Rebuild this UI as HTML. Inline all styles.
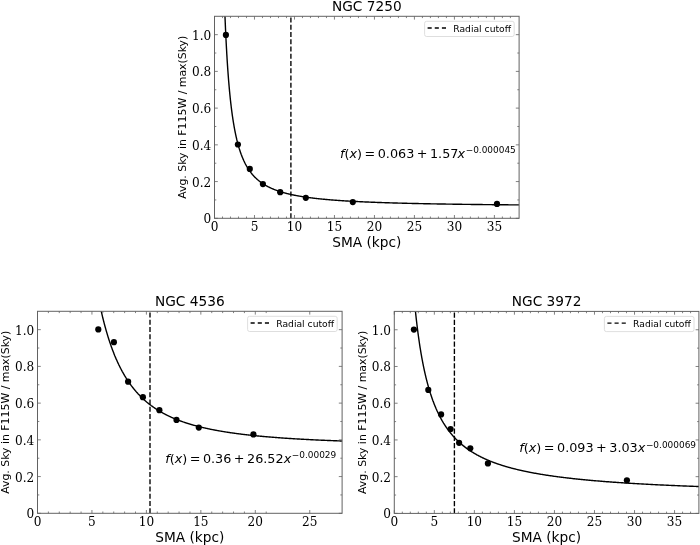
<!DOCTYPE html>
<html><head><meta charset="utf-8"><title>Sky profiles</title>
<style>
html,body{margin:0;padding:0;background:#fff;}
svg{display:block;}
</style></head>
<body>
<svg width="700" height="545" viewBox="0 0 700 545" font-family="'DejaVu Sans', 'Liberation Sans', sans-serif" fill="#000">
<filter id="soft" filterUnits="userSpaceOnUse" x="0" y="0" width="700" height="545"><feGaussianBlur stdDeviation="0.3"/></filter>
<rect width="700" height="545" fill="#fff"/>
<g filter="url(#soft)">
<clipPath id="clipA"><rect x="214.5" y="16.3" width="304.6" height="202"/></clipPath>
<g clip-path="url(#clipA)">
<polyline points="224.63,7.18 224.69,8.74 224.75,10.29 224.81,11.82 224.86,13.35 224.92,14.86 224.98,16.36 225.04,17.85 225.10,19.33 225.16,20.80 225.22,22.25 225.29,23.70 225.35,25.13 225.41,26.55 225.47,27.96 225.53,29.36 225.60,30.75 225.66,32.13 225.72,33.49 225.79,34.85 225.85,36.19 225.92,37.53 225.98,38.85 226.05,40.17 226.11,41.47 226.18,42.76 226.25,44.05 226.31,45.32 226.38,46.58 226.45,47.84 226.52,49.08 226.59,50.31 226.66,51.54 226.72,52.75 226.79,53.96 226.86,55.15 226.94,56.34 227.01,57.52 227.08,58.69 227.15,59.84 227.22,60.99 227.29,62.13 227.37,63.27 227.44,64.39 227.51,65.50 227.59,66.61 227.66,67.71 227.74,68.79 227.81,69.87 227.89,70.94 227.97,72.01 228.04,73.06 228.12,74.11 228.20,75.15 228.28,76.18 228.36,77.20 228.43,78.21 228.51,79.22 228.59,80.21 228.67,81.21 228.76,82.19 228.84,83.16 228.92,84.13 229.00,85.09 229.08,86.04 229.17,86.99 229.25,87.92 229.34,88.85 229.42,89.78 229.50,90.69 229.59,91.60 229.68,92.50 229.76,93.39 229.85,94.28 229.94,95.16 230.03,96.03 230.11,96.90 230.20,97.76 230.29,98.61 230.38,99.46 230.47,100.30 230.57,101.13 230.66,101.96 230.75,102.78 230.84,103.59 230.94,104.40 231.03,105.20 231.12,106.00 231.22,106.78 231.31,107.57 231.41,108.34 231.51,109.11 231.60,109.88 231.70,110.63 231.80,111.39 231.90,112.13 232.00,112.87 232.10,113.61 232.20,114.34 232.30,115.06 232.40,115.78 232.50,116.49 232.61,117.20 232.71,117.90 232.81,118.59 232.92,119.28 233.02,119.97 233.13,120.64 233.24,121.32 233.34,121.99 233.45,122.65 233.56,123.31 233.67,123.96 233.78,124.61 233.89,125.25 234.00,125.89 234.11,126.52 234.22,127.15 234.33,127.77 234.45,128.39 234.56,129.00 234.67,129.61 234.79,130.22 234.91,130.82 235.02,131.41 235.14,132.00 235.26,132.58 235.38,133.16 235.49,133.74 235.61,134.31 235.73,134.88 235.86,135.44 235.98,136.00 236.10,136.55 236.22,137.10 236.35,137.65 236.47,138.19 236.60,138.72 236.72,139.26 236.85,139.78 236.98,140.31 237.11,140.83 237.24,141.34 237.37,141.86 237.50,142.36 237.63,142.87 237.76,143.37 237.89,143.86 238.03,144.36 238.16,144.84 238.30,145.33 238.43,145.81 238.57,146.29 238.71,146.76 238.84,147.23 238.98,147.69 239.12,148.16 239.26,148.61 239.40,149.07 239.55,149.52 239.69,149.97 239.83,150.41 239.98,150.85 240.12,151.29 240.27,151.73 240.42,152.16 240.56,152.58 240.71,153.01 240.86,153.43 241.01,153.84 241.16,154.26 241.32,154.67 241.47,155.08 241.62,155.48 241.78,155.88 241.93,156.28 242.09,156.68 242.25,157.07 242.41,157.46 242.57,157.84 242.73,158.22 242.89,158.60 243.05,158.98 243.21,159.35 243.38,159.73 243.54,160.09 243.71,160.46 243.87,160.82 244.04,161.18 244.21,161.54 244.38,161.89 244.55,162.24 244.72,162.59 244.90,162.94 245.07,163.28 245.24,163.62 245.42,163.96 245.60,164.29 245.77,164.62 245.95,164.95 246.13,165.28 246.31,165.60 246.49,165.93 246.68,166.25 246.86,166.56 247.04,166.88 247.23,167.19 247.42,167.50 247.60,167.81 247.79,168.11 247.98,168.41 248.17,168.71 248.37,169.01 248.56,169.31 248.75,169.60 248.95,169.89 249.15,170.18 249.34,170.46 249.54,170.75 249.74,171.03 249.95,171.31 250.15,171.59 250.35,171.86 250.56,172.13 250.76,172.40 250.97,172.67 251.18,172.94 251.39,173.20 251.60,173.47 251.81,173.73 252.02,173.99 252.24,174.24 252.45,174.50 252.67,174.75 252.89,175.00 253.10,175.25 253.33,175.49 253.55,175.74 253.77,175.98 253.99,176.22 254.22,176.46 254.45,176.70 254.67,176.93 254.90,177.17 255.13,177.40 255.37,177.63 255.60,177.86 255.83,178.08 256.07,178.31 256.31,178.53 256.55,178.75 256.79,178.97 257.03,179.19 257.27,179.40 257.51,179.62 257.76,179.83 258.01,180.04 258.26,180.25 258.51,180.45 258.76,180.66 259.01,180.86 259.26,181.07 259.52,181.27 259.78,181.47 260.03,181.66 260.29,181.86 260.56,182.06 260.82,182.25 261.08,182.44 261.35,182.63 261.62,182.82 261.89,183.01 262.16,183.19 262.43,183.38 262.70,183.56 262.98,183.74 263.25,183.92 263.53,184.10 263.81,184.28 264.09,184.45 264.38,184.63 264.66,184.80 264.95,184.97 265.24,185.14 265.53,185.31 265.82,185.48 266.11,185.65 266.40,185.81 266.70,185.97 267.00,186.14 267.30,186.30 267.60,186.46 267.90,186.62 268.21,186.77 268.51,186.93 268.82,187.09 269.13,187.24 269.44,187.39 269.76,187.54 270.07,187.69 270.39,187.84 270.71,187.99 271.03,188.14 271.35,188.28 271.68,188.43 272.00,188.57 272.33,188.71 272.66,188.85 273.00,188.99 273.33,189.13 273.67,189.27 274.00,189.41 274.34,189.54 274.68,189.68 275.03,189.81 275.37,189.94 275.72,190.08 276.07,190.21 276.42,190.34 276.78,190.46 277.13,190.59 277.49,190.72 277.85,190.84 278.21,190.97 278.57,191.09 278.94,191.21 279.31,191.33 279.68,191.46 280.05,191.58 280.42,191.69 280.80,191.81 281.18,191.93 281.56,192.04 281.94,192.16 282.33,192.27 282.71,192.39 283.10,192.50 283.50,192.61 283.89,192.72 284.29,192.83 284.68,192.94 285.08,193.05 285.49,193.15 285.89,193.26 286.30,193.37 286.71,193.47 287.12,193.58 287.54,193.68 287.95,193.78 288.37,193.88 288.80,193.98 289.22,194.08 289.65,194.18 290.07,194.28 290.51,194.38 290.94,194.47 291.38,194.57 291.82,194.67 292.26,194.76 292.70,194.85 293.15,194.95 293.60,195.04 294.05,195.13 294.50,195.22 294.96,195.31 295.42,195.40 295.88,195.49 296.34,195.58 296.81,195.67 297.28,195.75 297.75,195.84 298.23,195.92 298.71,196.01 299.19,196.09 299.67,196.18 300.16,196.26 300.65,196.34 301.14,196.42 301.63,196.50 302.13,196.58 302.63,196.66 303.13,196.74 303.64,196.82 304.15,196.90 304.66,196.97 305.18,197.05 305.69,197.13 306.21,197.20 306.74,197.28 307.26,197.35 307.79,197.42 308.33,197.50 308.86,197.57 309.40,197.64 309.94,197.71 310.49,197.78 311.04,197.85 311.59,197.92 312.14,197.99 312.70,198.06 313.26,198.13 313.82,198.20 314.39,198.26 314.96,198.33 315.53,198.39 316.11,198.46 316.69,198.52 317.27,198.59 317.86,198.65 318.45,198.72 319.04,198.78 319.64,198.84 320.24,198.90 320.85,198.96 321.45,199.03 322.06,199.09 322.68,199.15 323.29,199.20 323.92,199.26 324.54,199.32 325.17,199.38 325.80,199.44 326.44,199.50 327.07,199.55 327.72,199.61 328.36,199.66 329.01,199.72 329.67,199.77 330.33,199.83 330.99,199.88 331.65,199.94 332.32,199.99 332.99,200.04 333.67,200.10 334.35,200.15 335.03,200.20 335.72,200.25 336.41,200.30 337.11,200.35 337.81,200.40 338.51,200.45 339.22,200.50 339.93,200.55 340.65,200.60 341.37,200.65 342.09,200.69 342.82,200.74 343.56,200.79 344.29,200.83 345.03,200.88 345.78,200.93 346.53,200.97 347.28,201.02 348.04,201.06 348.80,201.11 349.57,201.15 350.34,201.19 351.12,201.24 351.90,201.28 352.68,201.32 353.47,201.37 354.26,201.41 355.06,201.45 355.86,201.49 356.67,201.53 357.48,201.57 358.30,201.61 359.12,201.65 359.94,201.69 360.77,201.73 361.61,201.77 362.45,201.81 363.29,201.85 364.14,201.89 365.00,201.93 365.86,201.96 366.72,202.00 367.59,202.04 368.46,202.07 369.34,202.11 370.23,202.15 371.12,202.18 372.01,202.22 372.91,202.25 373.81,202.29 374.72,202.32 375.64,202.36 376.56,202.39 377.48,202.43 378.41,202.46 379.35,202.49 380.29,202.53 381.24,202.56 382.19,202.59 383.15,202.63 384.11,202.66 385.08,202.69 386.05,202.72 387.03,202.75 388.02,202.78 389.01,202.82 390.00,202.85 391.00,202.88 392.01,202.91 393.03,202.94 394.04,202.97 395.07,203.00 396.10,203.03 397.14,203.05 398.18,203.08 399.23,203.11 400.28,203.14 401.34,203.17 402.41,203.20 403.48,203.22 404.56,203.25 405.65,203.28 406.74,203.31 407.84,203.33 408.94,203.36 410.05,203.39 411.17,203.41 412.29,203.44 413.42,203.46 414.55,203.49 415.70,203.52 416.84,203.54 418.00,203.57 419.16,203.59 420.33,203.62 421.51,203.64 422.69,203.66 423.88,203.69 425.07,203.71 426.27,203.74 427.48,203.76 428.70,203.78 429.92,203.81 431.15,203.83 432.39,203.85 433.63,203.87 434.88,203.90 436.14,203.92 437.41,203.94 438.68,203.96 439.96,203.99 441.25,204.01 442.54,204.03 443.84,204.05 445.15,204.07 446.47,204.09 447.79,204.11 449.12,204.13 450.46,204.15 451.81,204.17 453.17,204.19 454.53,204.21 455.90,204.23 457.28,204.25 458.66,204.27 460.06,204.29 461.46,204.31 462.87,204.33 464.29,204.35 465.71,204.37 467.15,204.39 468.59,204.40 470.04,204.42 471.50,204.44 472.97,204.46 474.44,204.48 475.92,204.49 477.42,204.51 478.92,204.53 480.43,204.55 481.95,204.56 483.47,204.58 485.01,204.60 486.55,204.61 488.11,204.63 489.67,204.65 491.24,204.66 492.82,204.68 494.41,204.70 496.01,204.71 497.61,204.73 499.23,204.74 500.85,204.76 502.49,204.78 504.13,204.79 505.79,204.81 507.45,204.82 509.12,204.84 510.80,204.85 512.50,204.87 514.20,204.88 515.91,204.90 517.63,204.91 519.36,204.92 521.10,204.94" fill="none" stroke="#000" stroke-width="1.4" stroke-linejoin="round"/>
<line x1="290.9" y1="218.3" x2="290.9" y2="16.3" stroke="#000" stroke-width="1.37" stroke-dasharray="5.05 2.2"/>
<circle cx="225.9" cy="34.9" r="3.1" fill="#000"/>
<circle cx="237.9" cy="144.5" r="3.1" fill="#000"/>
<circle cx="249.8" cy="168.9" r="3.1" fill="#000"/>
<circle cx="262.9" cy="184.1" r="3.1" fill="#000"/>
<circle cx="280.2" cy="192.2" r="3.1" fill="#000"/>
<circle cx="305.8" cy="197.8" r="3.1" fill="#000"/>
<circle cx="352.8" cy="202.1" r="3.1" fill="#000"/>
<circle cx="497.0" cy="203.9" r="3.1" fill="#000"/>
</g>
<path d="M214.50 218.30v-3.3M214.50 16.30v3.3M254.48 218.30v-3.3M254.48 16.30v3.3M294.47 218.30v-3.3M294.47 16.30v3.3M334.45 218.30v-3.3M334.45 16.30v3.3M374.44 218.30v-3.3M374.44 16.30v3.3M414.42 218.30v-3.3M414.42 16.30v3.3M454.41 218.30v-3.3M454.41 16.30v3.3M494.39 218.30v-3.3M494.39 16.30v3.3M222.50 218.30v-1.8M222.50 16.30v1.8M230.49 218.30v-1.8M230.49 16.30v1.8M238.49 218.30v-1.8M238.49 16.30v1.8M246.49 218.30v-1.8M246.49 16.30v1.8M262.48 218.30v-1.8M262.48 16.30v1.8M270.48 218.30v-1.8M270.48 16.30v1.8M278.47 218.30v-1.8M278.47 16.30v1.8M286.47 218.30v-1.8M286.47 16.30v1.8M302.47 218.30v-1.8M302.47 16.30v1.8M310.46 218.30v-1.8M310.46 16.30v1.8M318.46 218.30v-1.8M318.46 16.30v1.8M326.46 218.30v-1.8M326.46 16.30v1.8M342.45 218.30v-1.8M342.45 16.30v1.8M350.45 218.30v-1.8M350.45 16.30v1.8M358.44 218.30v-1.8M358.44 16.30v1.8M366.44 218.30v-1.8M366.44 16.30v1.8M382.43 218.30v-1.8M382.43 16.30v1.8M390.43 218.30v-1.8M390.43 16.30v1.8M398.43 218.30v-1.8M398.43 16.30v1.8M406.42 218.30v-1.8M406.42 16.30v1.8M422.42 218.30v-1.8M422.42 16.30v1.8M430.41 218.30v-1.8M430.41 16.30v1.8M438.41 218.30v-1.8M438.41 16.30v1.8M446.41 218.30v-1.8M446.41 16.30v1.8M462.40 218.30v-1.8M462.40 16.30v1.8M470.40 218.30v-1.8M470.40 16.30v1.8M478.40 218.30v-1.8M478.40 16.30v1.8M486.39 218.30v-1.8M486.39 16.30v1.8M502.39 218.30v-1.8M502.39 16.30v1.8M510.38 218.30v-1.8M510.38 16.30v1.8M214.50 218.30h3.3M519.10 218.30h-3.3M214.50 199.94h1.8M519.10 199.94h-1.8M214.50 181.57h3.3M519.10 181.57h-3.3M214.50 163.21h1.8M519.10 163.21h-1.8M214.50 144.85h3.3M519.10 144.85h-3.3M214.50 126.48h1.8M519.10 126.48h-1.8M214.50 108.12h3.3M519.10 108.12h-3.3M214.50 89.75h1.8M519.10 89.75h-1.8M214.50 71.39h3.3M519.10 71.39h-3.3M214.50 53.03h1.8M519.10 53.03h-1.8M214.50 34.66h3.3M519.10 34.66h-3.3" stroke="#626262" stroke-width="0.8" fill="none"/>
<rect x="214.5" y="16.3" width="304.6" height="202" fill="none" stroke="#626262" stroke-width="1.0"/>
<g font-family="'DejaVu Serif', 'Liberation Serif', serif" font-size="12.1" fill="#000"><text x="214.50" y="230.90" text-anchor="middle">0</text><text x="254.48" y="230.90" text-anchor="middle">5</text><text x="294.47" y="230.90" text-anchor="middle">10</text><text x="334.45" y="230.90" text-anchor="middle">15</text><text x="374.44" y="230.90" text-anchor="middle">20</text><text x="414.42" y="230.90" text-anchor="middle">25</text><text x="454.41" y="230.90" text-anchor="middle">30</text><text x="494.39" y="230.90" text-anchor="middle">35</text><text x="211.20" y="223.25" text-anchor="end">0</text><text x="211.20" y="186.52" text-anchor="end">0.2</text><text x="211.20" y="149.80" text-anchor="end">0.4</text><text x="211.20" y="113.07" text-anchor="end">0.6</text><text x="211.20" y="76.34" text-anchor="end">0.8</text><text x="211.20" y="39.61" text-anchor="end">1.0</text></g>
<text x="366.80" y="10.70" text-anchor="middle" font-size="13.7">NGC 7250</text>
<text x="366.80" y="246.70" text-anchor="middle" font-size="13.7">SMA (kpc)</text>
<text transform="translate(186.10 117.30) rotate(-90)" text-anchor="middle" font-size="10.9">Avg. Sky in F115W / max(Sky)</text>
<rect x="424.60" y="21.30" width="89.60" height="15.20" rx="2" fill="#fff" fill-opacity="0.8" stroke="#d6d6d6" stroke-width="0.8"/>
<line x1="427.60" y1="28.00" x2="446.00" y2="28.00" stroke="#000" stroke-width="1.37" stroke-dasharray="4.1 3.05"/>
<text x="453.30" y="31.60" font-size="9.2">Radial cutoff</text>
<text><tspan x="340.00" y="158.10" font-size="12.78" font-style="oblique">f</tspan><tspan x="344.50" y="158.10" font-size="12.78">(</tspan><tspan x="349.49" y="158.10" font-size="12.78" font-style="oblique">x</tspan><tspan x="357.05" y="158.10" font-size="12.78">)</tspan><tspan x="364.52" y="158.10" font-size="12.78">=</tspan><tspan x="377.72" y="158.10" font-size="12.78">0.063</tspan><tspan x="416.80" y="158.10" font-size="12.78">+</tspan><tspan x="430.00" y="158.10" font-size="12.78">1.57</tspan><tspan x="457.53" y="158.10" font-size="12.78" font-style="oblique">x</tspan><tspan x="465.66" y="153.21" font-size="8.95">−0.000045</tspan></text>
<clipPath id="clipB"><rect x="37.5" y="311.3" width="304.6" height="202"/></clipPath>
<g clip-path="url(#clipB)">
<polyline points="99.23,301.91 99.39,302.71 99.56,303.51 99.72,304.30 99.89,305.08 100.06,305.86 100.22,306.64 100.39,307.41 100.56,308.18 100.73,308.94 100.90,309.70 101.07,310.45 101.24,311.21 101.41,311.95 101.58,312.69 101.75,313.43 101.93,314.17 102.10,314.90 102.27,315.62 102.45,316.35 102.62,317.06 102.79,317.78 102.97,318.49 103.14,319.20 103.32,319.90 103.50,320.60 103.67,321.29 103.85,321.98 104.03,322.67 104.21,323.35 104.39,324.03 104.56,324.71 104.74,325.38 104.92,326.05 105.10,326.71 105.29,327.37 105.47,328.03 105.65,328.68 105.83,329.33 106.02,329.98 106.20,330.62 106.38,331.26 106.57,331.90 106.75,332.53 106.94,333.16 107.12,333.79 107.31,334.41 107.50,335.03 107.69,335.64 107.87,336.25 108.06,336.86 108.25,337.47 108.44,338.07 108.63,338.67 108.82,339.26 109.01,339.85 109.20,340.44 109.40,341.03 109.59,341.61 109.78,342.19 109.98,342.76 110.17,343.33 110.36,343.90 110.56,344.47 110.76,345.03 110.95,345.59 111.15,346.15 111.35,346.70 111.54,347.25 111.74,347.80 111.94,348.34 112.14,348.89 112.34,349.42 112.54,349.96 112.74,350.49 112.94,351.02 113.15,351.55 113.35,352.07 113.55,352.59 113.76,353.11 113.96,353.63 114.16,354.14 114.37,354.65 114.58,355.15 114.78,355.66 114.99,356.16 115.20,356.66 115.41,357.15 115.61,357.64 115.82,358.13 116.03,358.62 116.24,359.11 116.46,359.59 116.67,360.07 116.88,360.54 117.09,361.02 117.30,361.49 117.52,361.96 117.73,362.42 117.95,362.89 118.16,363.35 118.38,363.81 118.60,364.26 118.81,364.72 119.03,365.17 119.25,365.62 119.47,366.06 119.69,366.51 119.91,366.95 120.13,367.39 120.35,367.82 120.57,368.26 120.80,368.69 121.02,369.12 121.24,369.54 121.47,369.97 121.69,370.39 121.92,370.81 122.14,371.23 122.37,371.64 122.60,372.05 122.83,372.46 123.05,372.87 123.28,373.28 123.51,373.68 123.74,374.08 123.98,374.48 124.21,374.88 124.44,375.27 124.67,375.67 124.91,376.06 125.14,376.44 125.37,376.83 125.61,377.22 125.85,377.60 126.08,377.98 126.32,378.35 126.56,378.73 126.80,379.10 127.04,379.47 127.28,379.84 127.52,380.21 127.76,380.58 128.00,380.94 128.24,381.30 128.49,381.66 128.73,382.02 128.97,382.37 129.22,382.73 129.46,383.08 129.71,383.43 129.96,383.78 130.21,384.12 130.45,384.46 130.70,384.81 130.95,385.15 131.20,385.48 131.45,385.82 131.71,386.15 131.96,386.49 132.21,386.82 132.47,387.15 132.72,387.47 132.98,387.80 133.23,388.12 133.49,388.44 133.74,388.76 134.00,389.08 134.26,389.40 134.52,389.71 134.78,390.03 135.04,390.34 135.30,390.65 135.56,390.95 135.83,391.26 136.09,391.56 136.35,391.87 136.62,392.17 136.89,392.47 137.15,392.76 137.42,393.06 137.69,393.35 137.95,393.65 138.22,393.94 138.49,394.23 138.76,394.51 139.04,394.80 139.31,395.09 139.58,395.37 139.85,395.65 140.13,395.93 140.40,396.21 140.68,396.49 140.96,396.76 141.23,397.03 141.51,397.31 141.79,397.58 142.07,397.85 142.35,398.12 142.63,398.38 142.91,398.65 143.19,398.91 143.48,399.17 143.76,399.43 144.05,399.69 144.33,399.95 144.62,400.21 144.90,400.46 145.19,400.71 145.48,400.97 145.77,401.22 146.06,401.47 146.35,401.71 146.64,401.96 146.94,402.20 147.23,402.45 147.52,402.69 147.82,402.93 148.11,403.17 148.41,403.41 148.71,403.65 149.00,403.88 149.30,404.12 149.60,404.35 149.90,404.58 150.20,404.81 150.51,405.04 150.81,405.27 151.11,405.50 151.42,405.72 151.72,405.95 152.03,406.17 152.34,406.39 152.64,406.61 152.95,406.83 153.26,407.05 153.57,407.27 153.88,407.48 154.19,407.70 154.51,407.91 154.82,408.12 155.13,408.33 155.45,408.54 155.77,408.75 156.08,408.96 156.40,409.17 156.72,409.37 157.04,409.58 157.36,409.78 157.68,409.98 158.00,410.18 158.32,410.38 158.65,410.58 158.97,410.78 159.30,410.97 159.63,411.17 159.95,411.36 160.28,411.56 160.61,411.75 160.94,411.94 161.27,412.13 161.60,412.32 161.93,412.51 162.27,412.69 162.60,412.88 162.94,413.06 163.27,413.25 163.61,413.43 163.95,413.61 164.29,413.79 164.63,413.97 164.97,414.15 165.31,414.33 165.65,414.51 165.99,414.68 166.34,414.86 166.68,415.03 167.03,415.20 167.38,415.38 167.73,415.55 168.07,415.72 168.42,415.89 168.77,416.05 169.13,416.22 169.48,416.39 169.83,416.55 170.19,416.72 170.54,416.88 170.90,417.04 171.26,417.21 171.62,417.37 171.97,417.53 172.34,417.68 172.70,417.84 173.06,418.00 173.42,418.16 173.79,418.31 174.15,418.47 174.52,418.62 174.88,418.77 175.25,418.93 175.62,419.08 175.99,419.23 176.36,419.38 176.73,419.53 177.11,419.67 177.48,419.82 177.86,419.97 178.23,420.11 178.61,420.26 178.99,420.40 179.37,420.55 179.75,420.69 180.13,420.83 180.51,420.97 180.89,421.11 181.28,421.25 181.66,421.39 182.05,421.53 182.44,421.66 182.83,421.80 183.22,421.94 183.61,422.07 184.00,422.20 184.39,422.34 184.78,422.47 185.18,422.60 185.57,422.73 185.97,422.86 186.37,422.99 186.77,423.12 187.17,423.25 187.57,423.38 187.97,423.50 188.37,423.63 188.78,423.75 189.18,423.88 189.59,424.00 190.00,424.13 190.41,424.25 190.81,424.37 191.23,424.49 191.64,424.61 192.05,424.73 192.46,424.85 192.88,424.97 193.30,425.09 193.71,425.21 194.13,425.32 194.55,425.44 194.97,425.55 195.39,425.67 195.82,425.78 196.24,425.90 196.67,426.01 197.09,426.12 197.52,426.23 197.95,426.34 198.38,426.45 198.81,426.56 199.24,426.67 199.68,426.78 200.11,426.89 200.55,427.00 200.98,427.10 201.42,427.21 201.86,427.32 202.30,427.42 202.74,427.53 203.19,427.63 203.63,427.73 204.08,427.83 204.52,427.94 204.97,428.04 205.42,428.14 205.87,428.24 206.32,428.34 206.77,428.44 207.22,428.54 207.68,428.64 208.14,428.73 208.59,428.83 209.05,428.93 209.51,429.02 209.97,429.12 210.43,429.21 210.90,429.31 211.36,429.40 211.83,429.50 212.29,429.59 212.76,429.68 213.23,429.77 213.70,429.86 214.18,429.96 214.65,430.05 215.12,430.14 215.60,430.23 216.08,430.31 216.56,430.40 217.04,430.49 217.52,430.58 218.00,430.67 218.48,430.75 218.97,430.84 219.45,430.92 219.94,431.01 220.43,431.09 220.92,431.18 221.41,431.26 221.90,431.34 222.40,431.43 222.89,431.51 223.39,431.59 223.89,431.67 224.39,431.75 224.89,431.83 225.39,431.91 225.89,431.99 226.40,432.07 226.91,432.15 227.41,432.23 227.92,432.31 228.43,432.38 228.94,432.46 229.46,432.54 229.97,432.61 230.49,432.69 231.00,432.76 231.52,432.84 232.04,432.91 232.56,432.99 233.09,433.06 233.61,433.14 234.14,433.21 234.66,433.28 235.19,433.35 235.72,433.42 236.25,433.50 236.78,433.57 237.32,433.64 237.85,433.71 238.39,433.78 238.93,433.85 239.47,433.91 240.01,433.98 240.55,434.05 241.10,434.12 241.64,434.19 242.19,434.25 242.74,434.32 243.29,434.39 243.84,434.45 244.39,434.52 244.95,434.58 245.50,434.65 246.06,434.71 246.62,434.78 247.18,434.84 247.74,434.90 248.30,434.97 248.87,435.03 249.43,435.09 250.00,435.15 250.57,435.22 251.14,435.28 251.71,435.34 252.29,435.40 252.86,435.46 253.44,435.52 254.02,435.58 254.60,435.64 255.18,435.70 255.76,435.76 256.35,435.81 256.94,435.87 257.52,435.93 258.11,435.99 258.70,436.04 259.30,436.10 259.89,436.16 260.49,436.21 261.08,436.27 261.68,436.32 262.28,436.38 262.89,436.43 263.49,436.49 264.10,436.54 264.70,436.60 265.31,436.65 265.92,436.70 266.53,436.76 267.15,436.81 267.76,436.86 268.38,436.92 269.00,436.97 269.62,437.02 270.24,437.07 270.87,437.12 271.49,437.17 272.12,437.22 272.75,437.27 273.38,437.32 274.01,437.37 274.64,437.42 275.28,437.47 275.91,437.52 276.55,437.57 277.19,437.62 277.84,437.66 278.48,437.71 279.13,437.76 279.77,437.81 280.42,437.85 281.07,437.90 281.73,437.95 282.38,437.99 283.04,438.04 283.69,438.09 284.35,438.13 285.02,438.18 285.68,438.22 286.34,438.27 287.01,438.31 287.68,438.35 288.35,438.40 289.02,438.44 289.70,438.49 290.37,438.53 291.05,438.57 291.73,438.61 292.41,438.66 293.09,438.70 293.78,438.74 294.46,438.78 295.15,438.83 295.84,438.87 296.54,438.91 297.23,438.95 297.93,438.99 298.62,439.03 299.32,439.07 300.02,439.11 300.73,439.15 301.43,439.19 302.14,439.23 302.85,439.27 303.56,439.31 304.27,439.35 304.99,439.38 305.70,439.42 306.42,439.46 307.14,439.50 307.87,439.54 308.59,439.57 309.32,439.61 310.05,439.65 310.78,439.68 311.51,439.72 312.24,439.76 312.98,439.79 313.72,439.83 314.46,439.87 315.20,439.90 315.94,439.94 316.69,439.97 317.44,440.01 318.19,440.04 318.94,440.08 319.69,440.11 320.45,440.15 321.21,440.18 321.97,440.21 322.73,440.25 323.49,440.28 324.26,440.31 325.03,440.35 325.80,440.38 326.57,440.41 327.35,440.45 328.12,440.48 328.90,440.51 329.68,440.54 330.47,440.57 331.25,440.61 332.04,440.64 332.83,440.67 333.62,440.70 334.41,440.73 335.21,440.76 336.00,440.79 336.80,440.82 337.61,440.85 338.41,440.88 339.22,440.91 340.03,440.94 340.84,440.97 341.65,441.00 342.46,441.03 343.28,441.06 344.10,441.09" fill="none" stroke="#000" stroke-width="1.4" stroke-linejoin="round"/>
<line x1="150.0" y1="513.3" x2="150.0" y2="311.3" stroke="#000" stroke-width="1.37" stroke-dasharray="5.05 2.2"/>
<circle cx="98.3" cy="329.4" r="3.1" fill="#000"/>
<circle cx="113.9" cy="342.2" r="3.1" fill="#000"/>
<circle cx="128.1" cy="381.7" r="3.1" fill="#000"/>
<circle cx="142.9" cy="397.2" r="3.1" fill="#000"/>
<circle cx="159.4" cy="410.2" r="3.1" fill="#000"/>
<circle cx="176.5" cy="419.9" r="3.1" fill="#000"/>
<circle cx="198.8" cy="427.6" r="3.1" fill="#000"/>
<circle cx="253.4" cy="434.4" r="3.1" fill="#000"/>
</g>
<path d="M37.50 513.30v-3.3M37.50 311.30v3.3M91.95 513.30v-3.3M91.95 311.30v3.3M146.40 513.30v-3.3M146.40 311.30v3.3M200.85 513.30v-3.3M200.85 311.30v3.3M255.30 513.30v-3.3M255.30 311.30v3.3M309.76 513.30v-3.3M309.76 311.30v3.3M48.39 513.30v-1.8M48.39 311.30v1.8M59.28 513.30v-1.8M59.28 311.30v1.8M70.17 513.30v-1.8M70.17 311.30v1.8M81.06 513.30v-1.8M81.06 311.30v1.8M102.84 513.30v-1.8M102.84 311.30v1.8M113.73 513.30v-1.8M113.73 311.30v1.8M124.62 513.30v-1.8M124.62 311.30v1.8M135.51 513.30v-1.8M135.51 311.30v1.8M157.29 513.30v-1.8M157.29 311.30v1.8M168.18 513.30v-1.8M168.18 311.30v1.8M179.07 513.30v-1.8M179.07 311.30v1.8M189.96 513.30v-1.8M189.96 311.30v1.8M211.74 513.30v-1.8M211.74 311.30v1.8M222.63 513.30v-1.8M222.63 311.30v1.8M233.52 513.30v-1.8M233.52 311.30v1.8M244.41 513.30v-1.8M244.41 311.30v1.8M266.20 513.30v-1.8M266.20 311.30v1.8M37.50 513.30h3.3M342.10 513.30h-3.3M37.50 494.94h1.8M342.10 494.94h-1.8M37.50 476.57h3.3M342.10 476.57h-3.3M37.50 458.21h1.8M342.10 458.21h-1.8M37.50 439.85h3.3M342.10 439.85h-3.3M37.50 421.48h1.8M342.10 421.48h-1.8M37.50 403.12h3.3M342.10 403.12h-3.3M37.50 384.75h1.8M342.10 384.75h-1.8M37.50 366.39h3.3M342.10 366.39h-3.3M37.50 348.03h1.8M342.10 348.03h-1.8M37.50 329.66h3.3M342.10 329.66h-3.3" stroke="#626262" stroke-width="0.8" fill="none"/>
<rect x="37.5" y="311.3" width="304.6" height="202" fill="none" stroke="#626262" stroke-width="1.0"/>
<g font-family="'DejaVu Serif', 'Liberation Serif', serif" font-size="12.1" fill="#000"><text x="37.50" y="525.90" text-anchor="middle">0</text><text x="91.95" y="525.90" text-anchor="middle">5</text><text x="146.40" y="525.90" text-anchor="middle">10</text><text x="200.85" y="525.90" text-anchor="middle">15</text><text x="255.30" y="525.90" text-anchor="middle">20</text><text x="309.76" y="525.90" text-anchor="middle">25</text><text x="34.20" y="518.25" text-anchor="end">0</text><text x="34.20" y="481.52" text-anchor="end">0.2</text><text x="34.20" y="444.80" text-anchor="end">0.4</text><text x="34.20" y="408.07" text-anchor="end">0.6</text><text x="34.20" y="371.34" text-anchor="end">0.8</text><text x="34.20" y="334.61" text-anchor="end">1.0</text></g>
<text x="189.80" y="305.70" text-anchor="middle" font-size="13.7">NGC 4536</text>
<text x="189.80" y="541.70" text-anchor="middle" font-size="13.7">SMA (kpc)</text>
<text transform="translate(9.10 412.30) rotate(-90)" text-anchor="middle" font-size="10.9">Avg. Sky in F115W / max(Sky)</text>
<rect x="247.60" y="316.30" width="89.60" height="15.20" rx="2" fill="#fff" fill-opacity="0.8" stroke="#d6d6d6" stroke-width="0.8"/>
<line x1="250.60" y1="323.00" x2="269.00" y2="323.00" stroke="#000" stroke-width="1.37" stroke-dasharray="4.1 3.05"/>
<text x="276.30" y="326.60" font-size="9.2">Radial cutoff</text>
<text><tspan x="165.20" y="462.70" font-size="12.78" font-style="oblique">f</tspan><tspan x="169.70" y="462.70" font-size="12.78">(</tspan><tspan x="174.69" y="462.70" font-size="12.78" font-style="oblique">x</tspan><tspan x="182.25" y="462.70" font-size="12.78">)</tspan><tspan x="189.72" y="462.70" font-size="12.78">=</tspan><tspan x="202.92" y="462.70" font-size="12.78">0.36</tspan><tspan x="233.87" y="462.70" font-size="12.78">+</tspan><tspan x="247.07" y="462.70" font-size="12.78">26.52</tspan><tspan x="283.65" y="462.70" font-size="12.78" font-style="oblique">x</tspan><tspan x="291.79" y="457.81" font-size="8.95">−0.00029</tspan></text>
<clipPath id="clipC"><rect x="394.3" y="311.4" width="304.6" height="202"/></clipPath>
<g clip-path="url(#clipC)">
<polyline points="414.52,302.01 414.61,302.98 414.71,303.94 414.80,304.89 414.89,305.84 414.99,306.79 415.08,307.73 415.18,308.66 415.27,309.59 415.37,310.52 415.46,311.44 415.56,312.36 415.65,313.27 415.75,314.18 415.85,315.08 415.95,315.98 416.05,316.87 416.14,317.76 416.24,318.65 416.34,319.53 416.44,320.41 416.54,321.28 416.65,322.15 416.75,323.01 416.85,323.87 416.95,324.73 417.06,325.58 417.16,326.42 417.26,327.27 417.37,328.10 417.47,328.94 417.58,329.77 417.68,330.60 417.79,331.42 417.90,332.24 418.00,333.05 418.11,333.86 418.22,334.66 418.33,335.47 418.44,336.26 418.55,337.06 418.66,337.85 418.77,338.63 418.88,339.42 418.99,340.19 419.10,340.97 419.22,341.74 419.33,342.51 419.44,343.27 419.56,344.03 419.67,344.78 419.79,345.54 419.91,346.28 420.02,347.03 420.14,347.77 420.26,348.51 420.37,349.24 420.49,349.97 420.61,350.69 420.73,351.42 420.85,352.14 420.97,352.85 421.09,353.56 421.22,354.27 421.34,354.98 421.46,355.68 421.59,356.37 421.71,357.07 421.83,357.76 421.96,358.45 422.09,359.13 422.21,359.81 422.34,360.49 422.47,361.16 422.59,361.83 422.72,362.50 422.85,363.16 422.98,363.83 423.11,364.48 423.24,365.14 423.38,365.79 423.51,366.44 423.64,367.08 423.77,367.72 423.91,368.36 424.04,368.99 424.18,369.63 424.31,370.25 424.45,370.88 424.59,371.50 424.73,372.12 424.86,372.74 425.00,373.35 425.14,373.96 425.28,374.57 425.42,375.17 425.57,375.77 425.71,376.37 425.85,376.97 425.99,377.56 426.14,378.15 426.28,378.74 426.43,379.32 426.57,379.90 426.72,380.48 426.87,381.05 427.02,381.62 427.17,382.19 427.32,382.76 427.47,383.32 427.62,383.88 427.77,384.44 427.92,385.00 428.07,385.55 428.23,386.10 428.38,386.65 428.54,387.19 428.69,387.73 428.85,388.27 429.01,388.81 429.16,389.34 429.32,389.87 429.48,390.40 429.64,390.93 429.80,391.45 429.96,391.97 430.13,392.49 430.29,393.00 430.45,393.52 430.62,394.03 430.78,394.53 430.95,395.04 431.12,395.54 431.28,396.04 431.45,396.54 431.62,397.04 431.79,397.53 431.96,398.02 432.13,398.51 432.30,398.99 432.48,399.48 432.65,399.96 432.82,400.44 433.00,400.91 433.18,401.38 433.35,401.86 433.53,402.33 433.71,402.79 433.89,403.26 434.07,403.72 434.25,404.18 434.43,404.64 434.61,405.09 434.80,405.54 434.98,405.99 435.17,406.44 435.35,406.89 435.54,407.33 435.73,407.77 435.92,408.21 436.10,408.65 436.29,409.09 436.49,409.52 436.68,409.95 436.87,410.38 437.06,410.81 437.26,411.23 437.45,411.65 437.65,412.07 437.85,412.49 438.05,412.91 438.24,413.32 438.44,413.74 438.65,414.15 438.85,414.55 439.05,414.96 439.25,415.36 439.46,415.77 439.66,416.17 439.87,416.56 440.08,416.96 440.28,417.35 440.49,417.75 440.70,418.14 440.92,418.53 441.13,418.91 441.34,419.30 441.55,419.68 441.77,420.06 441.99,420.44 442.20,420.82 442.42,421.19 442.64,421.56 442.86,421.94 443.08,422.30 443.30,422.67 443.52,423.04 443.75,423.40 443.97,423.76 444.20,424.12 444.43,424.48 444.65,424.84 444.88,425.20 445.11,425.55 445.35,425.90 445.58,426.25 445.81,426.60 446.04,426.94 446.28,427.29 446.52,427.63 446.75,427.97 446.99,428.31 447.23,428.65 447.47,428.99 447.72,429.32 447.96,429.66 448.20,429.99 448.45,430.32 448.69,430.64 448.94,430.97 449.19,431.30 449.44,431.62 449.69,431.94 449.94,432.26 450.20,432.58 450.45,432.89 450.71,433.21 450.96,433.52 451.22,433.84 451.48,434.15 451.74,434.46 452.00,434.76 452.26,435.07 452.53,435.37 452.79,435.68 453.06,435.98 453.32,436.28 453.59,436.58 453.86,436.87 454.13,437.17 454.41,437.46 454.68,437.76 454.95,438.05 455.23,438.34 455.51,438.62 455.79,438.91 456.07,439.20 456.35,439.48 456.63,439.76 456.91,440.04 457.20,440.32 457.48,440.60 457.77,440.88 458.06,441.16 458.35,441.43 458.64,441.70 458.93,441.97 459.23,442.24 459.52,442.51 459.82,442.78 460.12,443.05 460.42,443.31 460.72,443.58 461.02,443.84 461.32,444.10 461.63,444.36 461.93,444.62 462.24,444.87 462.55,445.13 462.86,445.38 463.17,445.64 463.49,445.89 463.80,446.14 464.12,446.39 464.44,446.64 464.75,446.89 465.07,447.13 465.40,447.38 465.72,447.62 466.05,447.86 466.37,448.10 466.70,448.34 467.03,448.58 467.36,448.82 467.69,449.06 468.03,449.29 468.36,449.53 468.70,449.76 469.04,449.99 469.38,450.22 469.72,450.45 470.06,450.68 470.41,450.90 470.75,451.13 471.10,451.36 471.45,451.58 471.80,451.80 472.15,452.02 472.51,452.24 472.86,452.46 473.22,452.68 473.58,452.90 473.94,453.12 474.30,453.33 474.67,453.54 475.03,453.76 475.40,453.97 475.77,454.18 476.14,454.39 476.51,454.60 476.88,454.81 477.26,455.01 477.64,455.22 478.02,455.42 478.40,455.63 478.78,455.83 479.16,456.03 479.55,456.23 479.94,456.43 480.33,456.63 480.72,456.83 481.11,457.02 481.51,457.22 481.90,457.41 482.30,457.61 482.70,457.80 483.11,457.99 483.51,458.18 483.91,458.37 484.32,458.56 484.73,458.75 485.14,458.94 485.56,459.12 485.97,459.31 486.39,459.49 486.81,459.68 487.23,459.86 487.65,460.04 488.08,460.22 488.50,460.40 488.93,460.58 489.36,460.76 489.79,460.94 490.23,461.11 490.67,461.29 491.10,461.46 491.54,461.64 491.99,461.81 492.43,461.98 492.88,462.15 493.33,462.32 493.78,462.49 494.23,462.66 494.68,462.83 495.14,463.00 495.60,463.16 496.06,463.33 496.52,463.49 496.99,463.65 497.45,463.82 497.92,463.98 498.39,464.14 498.87,464.30 499.34,464.46 499.82,464.62 500.30,464.78 500.78,464.93 501.27,465.09 501.76,465.25 502.24,465.40 502.74,465.56 503.23,465.71 503.72,465.86 504.22,466.01 504.72,466.17 505.22,466.32 505.73,466.47 506.24,466.61 506.74,466.76 507.26,466.91 507.77,467.06 508.29,467.20 508.81,467.35 509.33,467.49 509.85,467.64 510.37,467.78 510.90,467.92 511.43,468.06 511.97,468.20 512.50,468.34 513.04,468.48 513.58,468.62 514.12,468.76 514.67,468.90 515.21,469.04 515.76,469.17 516.32,469.31 516.87,469.44 517.43,469.58 517.99,469.71 518.55,469.84 519.12,469.98 519.69,470.11 520.26,470.24 520.83,470.37 521.40,470.50 521.98,470.63 522.56,470.75 523.15,470.88 523.73,471.01 524.32,471.14 524.91,471.26 525.51,471.39 526.10,471.51 526.70,471.64 527.31,471.76 527.91,471.88 528.52,472.00 529.13,472.12 529.74,472.25 530.36,472.37 530.98,472.49 531.60,472.60 532.23,472.72 532.85,472.84 533.48,472.96 534.12,473.08 534.75,473.19 535.39,473.31 536.03,473.42 536.68,473.54 537.33,473.65 537.98,473.76 538.63,473.88 539.29,473.99 539.95,474.10 540.61,474.21 541.27,474.32 541.94,474.43 542.61,474.54 543.29,474.65 543.97,474.76 544.65,474.87 545.33,474.97 546.02,475.08 546.71,475.19 547.40,475.29 548.10,475.40 548.80,475.50 549.50,475.61 550.21,475.71 550.92,475.81 551.63,475.92 552.34,476.02 553.06,476.12 553.79,476.22 554.51,476.32 555.24,476.42 555.97,476.52 556.71,476.62 557.45,476.72 558.19,476.82 558.93,476.91 559.68,477.01 560.44,477.11 561.19,477.20 561.95,477.30 562.71,477.40 563.48,477.49 564.25,477.58 565.02,477.68 565.80,477.77 566.58,477.86 567.36,477.96 568.15,478.05 568.94,478.14 569.73,478.23 570.53,478.32 571.33,478.41 572.14,478.50 572.95,478.59 573.76,478.68 574.58,478.77 575.40,478.86 576.22,478.94 577.05,479.03 577.88,479.12 578.72,479.20 579.56,479.29 580.40,479.38 581.24,479.46 582.09,479.54 582.95,479.63 583.81,479.71 584.67,479.80 585.54,479.88 586.41,479.96 587.28,480.04 588.16,480.13 589.04,480.21 589.93,480.29 590.82,480.37 591.71,480.45 592.61,480.53 593.51,480.61 594.42,480.69 595.33,480.76 596.24,480.84 597.16,480.92 598.08,481.00 599.01,481.07 599.94,481.15 600.88,481.23 601.82,481.30 602.76,481.38 603.71,481.45 604.66,481.53 605.62,481.60 606.58,481.68 607.54,481.75 608.51,481.82 609.49,481.90 610.47,481.97 611.45,482.04 612.44,482.11 613.43,482.18 614.43,482.25 615.43,482.32 616.44,482.40 617.45,482.47 618.46,482.53 619.48,482.60 620.51,482.67 621.53,482.74 622.57,482.81 623.61,482.88 624.65,482.95 625.70,483.01 626.75,483.08 627.81,483.15 628.87,483.21 629.94,483.28 631.01,483.34 632.09,483.41 633.17,483.47 634.25,483.54 635.35,483.60 636.44,483.67 637.54,483.73 638.65,483.79 639.76,483.86 640.88,483.92 642.00,483.98 643.13,484.05 644.26,484.11 645.40,484.17 646.54,484.23 647.69,484.29 648.84,484.35 650.00,484.41 651.16,484.47 652.33,484.53 653.50,484.59 654.68,484.65 655.87,484.71 657.06,484.77 658.25,484.83 659.45,484.88 660.66,484.94 661.87,485.00 663.09,485.06 664.31,485.11 665.54,485.17 666.77,485.23 668.01,485.28 669.26,485.34 670.51,485.39 671.76,485.45 673.03,485.50 674.29,485.56 675.57,485.61 676.85,485.67 678.13,485.72 679.42,485.77 680.72,485.83 682.02,485.88 683.33,485.93 684.65,485.98 685.97,486.04 687.30,486.09 688.63,486.14 689.97,486.19 691.31,486.24 692.66,486.29 694.02,486.34 695.38,486.39 696.75,486.44 698.13,486.49 699.51,486.54 700.90,486.59" fill="none" stroke="#000" stroke-width="1.4" stroke-linejoin="round"/>
<line x1="454.4" y1="513.4" x2="454.4" y2="311.4" stroke="#000" stroke-width="1.37" stroke-dasharray="5.05 2.2"/>
<circle cx="413.9" cy="329.6" r="3.1" fill="#000"/>
<circle cx="428.3" cy="389.9" r="3.1" fill="#000"/>
<circle cx="441.1" cy="414.4" r="3.1" fill="#000"/>
<circle cx="450.6" cy="429.1" r="3.1" fill="#000"/>
<circle cx="459.1" cy="442.8" r="3.1" fill="#000"/>
<circle cx="470.3" cy="448.3" r="3.1" fill="#000"/>
<circle cx="487.9" cy="463.4" r="3.1" fill="#000"/>
<circle cx="626.9" cy="480.3" r="3.1" fill="#000"/>
</g>
<path d="M394.30 513.40v-3.3M394.30 311.40v3.3M434.34 513.40v-3.3M434.34 311.40v3.3M474.37 513.40v-3.3M474.37 311.40v3.3M514.41 513.40v-3.3M514.41 311.40v3.3M554.45 513.40v-3.3M554.45 311.40v3.3M594.48 513.40v-3.3M594.48 311.40v3.3M634.52 513.40v-3.3M634.52 311.40v3.3M674.56 513.40v-3.3M674.56 311.40v3.3M402.31 513.40v-1.8M402.31 311.40v1.8M410.31 513.40v-1.8M410.31 311.40v1.8M418.32 513.40v-1.8M418.32 311.40v1.8M426.33 513.40v-1.8M426.33 311.40v1.8M442.34 513.40v-1.8M442.34 311.40v1.8M450.35 513.40v-1.8M450.35 311.40v1.8M458.36 513.40v-1.8M458.36 311.40v1.8M466.37 513.40v-1.8M466.37 311.40v1.8M482.38 513.40v-1.8M482.38 311.40v1.8M490.39 513.40v-1.8M490.39 311.40v1.8M498.40 513.40v-1.8M498.40 311.40v1.8M506.40 513.40v-1.8M506.40 311.40v1.8M522.42 513.40v-1.8M522.42 311.40v1.8M530.43 513.40v-1.8M530.43 311.40v1.8M538.43 513.40v-1.8M538.43 311.40v1.8M546.44 513.40v-1.8M546.44 311.40v1.8M562.45 513.40v-1.8M562.45 311.40v1.8M570.46 513.40v-1.8M570.46 311.40v1.8M578.47 513.40v-1.8M578.47 311.40v1.8M586.48 513.40v-1.8M586.48 311.40v1.8M602.49 513.40v-1.8M602.49 311.40v1.8M610.50 513.40v-1.8M610.50 311.40v1.8M618.51 513.40v-1.8M618.51 311.40v1.8M626.51 513.40v-1.8M626.51 311.40v1.8M642.53 513.40v-1.8M642.53 311.40v1.8M650.54 513.40v-1.8M650.54 311.40v1.8M658.54 513.40v-1.8M658.54 311.40v1.8M666.55 513.40v-1.8M666.55 311.40v1.8M682.56 513.40v-1.8M682.56 311.40v1.8M690.57 513.40v-1.8M690.57 311.40v1.8M394.30 513.40h3.3M698.90 513.40h-3.3M394.30 495.04h1.8M698.90 495.04h-1.8M394.30 476.67h3.3M698.90 476.67h-3.3M394.30 458.31h1.8M698.90 458.31h-1.8M394.30 439.95h3.3M698.90 439.95h-3.3M394.30 421.58h1.8M698.90 421.58h-1.8M394.30 403.22h3.3M698.90 403.22h-3.3M394.30 384.85h1.8M698.90 384.85h-1.8M394.30 366.49h3.3M698.90 366.49h-3.3M394.30 348.13h1.8M698.90 348.13h-1.8M394.30 329.76h3.3M698.90 329.76h-3.3" stroke="#626262" stroke-width="0.8" fill="none"/>
<rect x="394.3" y="311.4" width="304.6" height="202" fill="none" stroke="#626262" stroke-width="1.0"/>
<g font-family="'DejaVu Serif', 'Liberation Serif', serif" font-size="12.1" fill="#000"><text x="394.30" y="526.00" text-anchor="middle">0</text><text x="434.34" y="526.00" text-anchor="middle">5</text><text x="474.37" y="526.00" text-anchor="middle">10</text><text x="514.41" y="526.00" text-anchor="middle">15</text><text x="554.45" y="526.00" text-anchor="middle">20</text><text x="594.48" y="526.00" text-anchor="middle">25</text><text x="634.52" y="526.00" text-anchor="middle">30</text><text x="674.56" y="526.00" text-anchor="middle">35</text><text x="391.00" y="518.35" text-anchor="end">0</text><text x="391.00" y="481.62" text-anchor="end">0.2</text><text x="391.00" y="444.90" text-anchor="end">0.4</text><text x="391.00" y="408.17" text-anchor="end">0.6</text><text x="391.00" y="371.44" text-anchor="end">0.8</text><text x="391.00" y="334.71" text-anchor="end">1.0</text></g>
<text x="546.60" y="305.80" text-anchor="middle" font-size="13.7">NGC 3972</text>
<text x="546.60" y="541.80" text-anchor="middle" font-size="13.7">SMA (kpc)</text>
<text transform="translate(365.90 412.40) rotate(-90)" text-anchor="middle" font-size="10.9">Avg. Sky in F115W / max(Sky)</text>
<rect x="604.40" y="316.40" width="89.60" height="15.20" rx="2" fill="#fff" fill-opacity="0.8" stroke="#d6d6d6" stroke-width="0.8"/>
<line x1="607.40" y1="323.10" x2="625.80" y2="323.10" stroke="#000" stroke-width="1.37" stroke-dasharray="4.1 3.05"/>
<text x="633.10" y="326.70" font-size="9.2">Radial cutoff</text>
<text><tspan x="519.30" y="452.40" font-size="12.78" font-style="oblique">f</tspan><tspan x="523.80" y="452.40" font-size="12.78">(</tspan><tspan x="528.79" y="452.40" font-size="12.78" font-style="oblique">x</tspan><tspan x="536.35" y="452.40" font-size="12.78">)</tspan><tspan x="543.82" y="452.40" font-size="12.78">=</tspan><tspan x="557.02" y="452.40" font-size="12.78">0.093</tspan><tspan x="596.10" y="452.40" font-size="12.78">+</tspan><tspan x="609.30" y="452.40" font-size="12.78">3.03</tspan><tspan x="637.75" y="452.40" font-size="12.78" font-style="oblique">x</tspan><tspan x="645.89" y="447.51" font-size="8.95">−0.000069</tspan></text>
</g>
</svg>
</body></html>
